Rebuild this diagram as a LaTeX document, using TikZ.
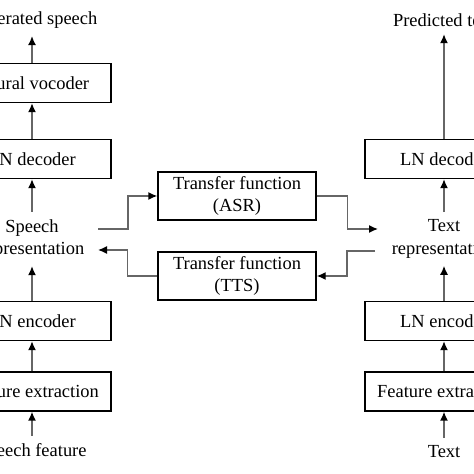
\documentclass[tikz,border=0pt]{standalone}
\usepackage{fontspec}
\setmainfont{Liberation Serif}
\usetikzlibrary{arrows.meta}

\begin{document}
\begin{tikzpicture}[thick,
        box/.style={draw,minimum width=3.16cm,minimum height=0.78cm,inner sep=0pt},
        tfbox/.style={draw,minimum width=3.16cm,minimum height=0.96cm,inner sep=0pt,align=center},
        lbl/.style={inner sep=4pt,align=center},
        conn/.style={draw=black!60,-{Latex[length=1.8mm,width=1.6mm,color=black]}},
        font=\fontsize{10.5}{12.6}\selectfont]
        \useasboundingbox (0,0) rectangle (9.48,9.48);
        \clip (0,0) rectangle (9.48,9.48);
        % speech side
        \draw (0.64,9.08) node[lbl] (gen) {Generated speech};
        \draw (0.64,7.82) node[box] (voc) {Neural vocoder};
        \draw (0.64,6.30) node[box] (sdec) {LN decoder};
        \draw (0.64,4.70) node[lbl] (srep) {Speech\\representation};
        \draw (0.64,3.06) node[box] (senc) {LN encoder};
        \draw (0.64,1.65) node[box] (sfex) {Feature extraction};
        \draw (0.64,0.44) node[lbl] (sin) {Speech feature};
        % transfer functions
        \draw (4.74,5.56) node[tfbox] (asr) {Transfer function\\(ASR)};
        \draw (4.74,3.96) node[tfbox] (tts) {Transfer function\\(TTS)};
        % text side
        \draw (8.88,9.08) node[lbl] (pred) {Predicted text};
        \draw (8.88,6.30) node[box] (tdec) {LN decoder};
        \draw (8.88,4.70) node[lbl] (trep) {Text\\representation};
        \draw (8.88,3.06) node[box] (tenc) {LN encoder};
        \draw (8.88,1.65) node[box] (tfex) {Feature extraction};
        \draw (8.88,0.44) node[lbl] (tin) {Text};
        \coordinate (sra) at (1.96,4.90);
        \coordinate (srb) at (1.96,4.48);
        \coordinate (tra) at (7.56,4.90);
        \coordinate (trb) at (7.50,4.46);
        \draw[conn] (sin) -- (sfex);
        \draw[conn] (sfex) -- (senc);
        \draw[conn] (senc) -- (srep);
        \draw[conn] (srep) -- (sdec);
        \draw[conn] (sdec) -- (voc);
        \draw[conn] (voc) -- (gen);
        \draw[conn] (tin) -- (tfex);
        \draw[conn] (tfex) -- (tenc);
        \draw[conn] (tenc) -- (trep);
        \draw[conn] (trep) -- (tdec);
        \draw[conn] (tdec) -- (pred);
        \draw[conn] (sra) -- ++(0.6,0) |- (asr.west);
        \draw[conn] (asr.east) -- ++(0.62,0) |- (tra);
        \draw[conn] (trb) -- ++(-0.56,0) |- (tts.east);
        \draw[conn] (tts.west) -- ++(-0.6,0) |- (srb);
\end{tikzpicture}
\end{document}
